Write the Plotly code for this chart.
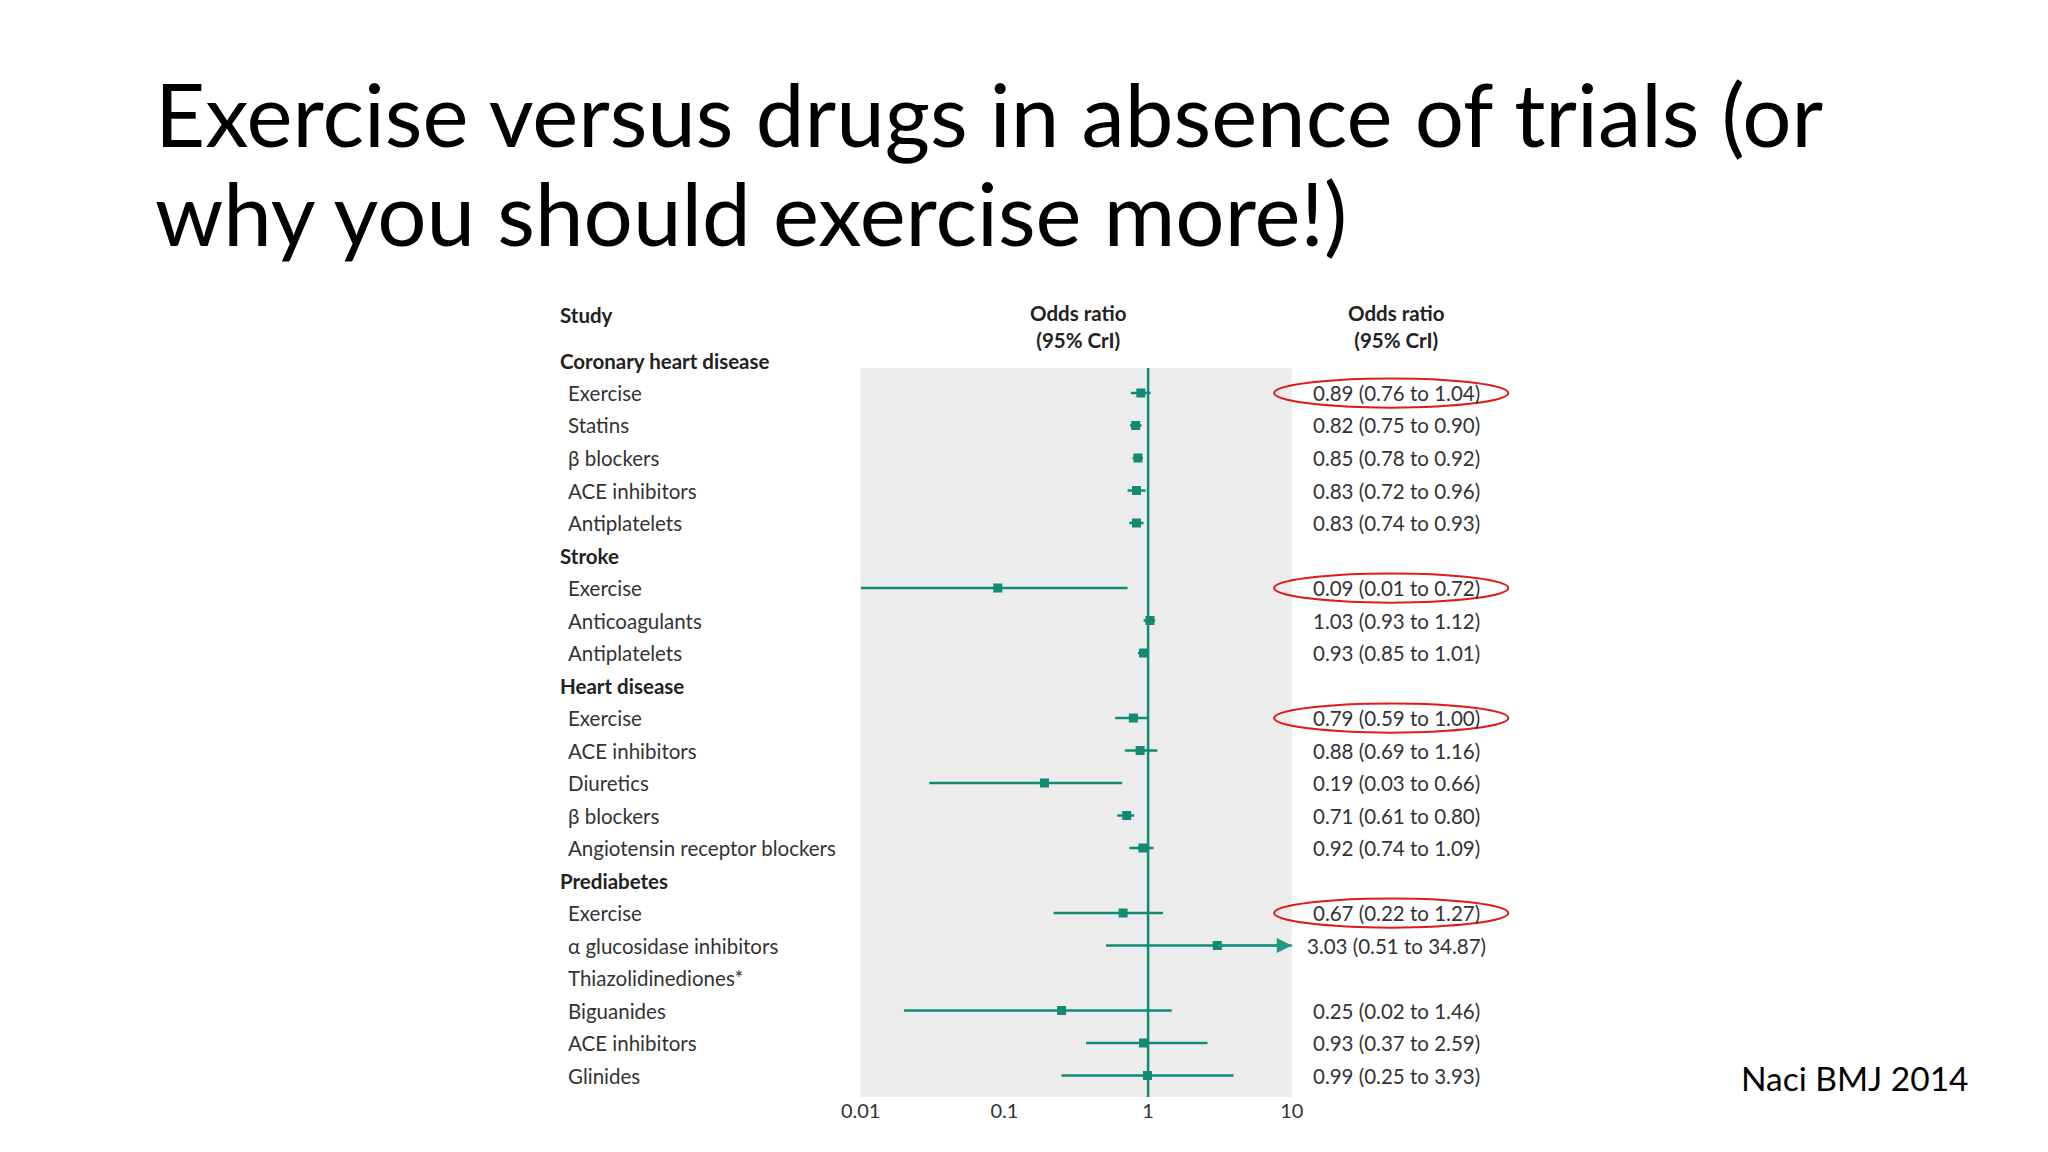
import math
import plotly.graph_objects as go

# ---------------- data ----------------
study_groups = [
    "Coronary heart disease", "Coronary heart disease", "Coronary heart disease",
    "Coronary heart disease", "Coronary heart disease",
    "Stroke", "Stroke", "Stroke",
    "Heart disease", "Heart disease", "Heart disease", "Heart disease", "Heart disease",
    "Prediabetes", "Prediabetes", "Prediabetes", "Prediabetes", "Prediabetes", "Prediabetes",
]
study_names = [
    "Exercise", "Statins", "β blockers", "ACE inhibitors", "Antiplatelets",
    "Exercise", "Anticoagulants", "Antiplatelets",
    "Exercise", "ACE inhibitors", "Diuretics", "β blockers", "Angiotensin receptor blockers",
    "Exercise", "α glucosidase inhibitors", "Thiazolidinediones*", "Biguanides",
    "ACE inhibitors", "Glinides",
]
odds_ratio = [0.89, 0.82, 0.85, 0.83, 0.83,
              0.09, 1.03, 0.93,
              0.79, 0.88, 0.19, 0.71, 0.92,
              0.67, 3.03, None, 0.25, 0.93, 0.99]
ci_lower = [0.76, 0.75, 0.78, 0.72, 0.74,
            0.01, 0.93, 0.85,
            0.59, 0.69, 0.03, 0.61, 0.74,
            0.22, 0.51, None, 0.02, 0.37, 0.25]
ci_upper = [1.04, 0.90, 0.92, 0.96, 0.93,
            0.72, 1.12, 1.01,
            1.00, 1.16, 0.66, 0.80, 1.09,
            1.27, 34.87, None, 1.46, 2.59, 3.93]
axis_tick_values = [0.01, 0.1, 1, 10]
axis_tick_labels = ["0.01", "0.1", "1", "10"]
highlight_study = "Exercise"

# ---------------- styling / geometry ----------------
W, H = 2048, 1152
TEAL = "#138a72"
GRAY_BG = "#ececec"
TXT = "#333333"
FONT = "Lato"
LBL_SIZE = 20.5
X_LEFT_PX, X_RIGHT_PX = 854, 1292
Y_TOP_PX, Y_BOT_PX = 368, 1097
ROW0_PX, ROW_STEP = 360.5, 32.5
XMIN, XMAX = 0.01, 10


def px_to_row(py):
    return (py - ROW0_PX) / ROW_STEP


def row_to_paper(row):
    return 1 - (ROW0_PX + row * ROW_STEP) / H


def px_x(p):
    return p / W


def px_y(p):
    return 1 - p / H


# build rows: group header followed by its studies
rows = []
prev = None
r = 0
for g, n, o, lo, hi in zip(study_groups, study_names, odds_ratio, ci_lower, ci_upper):
    if g != prev:
        rows.append(dict(label=g, header=True, row=r))
        r += 1
        prev = g
    rows.append(dict(label=n, header=False, row=r, o=o, lo=lo, hi=hi))
    r += 1

fig = go.Figure()

# CI lines
lx, ly = [], []
for d in rows:
    if d["header"] or d["o"] is None:
        continue
    lx += [d["lo"], min(d["hi"], XMAX), None]
    ly += [d["row"], d["row"], None]
fig.add_trace(go.Scatter(x=lx, y=ly, mode="lines",
                         line=dict(color=TEAL, width=2.5), hoverinfo="skip", showlegend=False))

# reference line at OR = 1
y_top_row, y_bot_row = px_to_row(Y_TOP_PX), px_to_row(Y_BOT_PX)
fig.add_trace(go.Scatter(x=[1, 1], y=[y_top_row, y_bot_row], mode="lines",
                         line=dict(color=TEAL, width=2.5), hoverinfo="skip", showlegend=False))

# point estimates
mx = [d["o"] for d in rows if not d["header"] and d["o"] is not None]
my = [d["row"] for d in rows if not d["header"] and d["o"] is not None]
fig.add_trace(go.Scatter(x=mx, y=my, mode="markers",
                         marker=dict(symbol="square", size=9, color=TEAL),
                         showlegend=False))

annotations = []
shapes = []

# arrows for CIs extending beyond axis
for d in rows:
    if not d["header"] and d["o"] is not None and d["hi"] > XMAX:
        annotations.append(dict(x=math.log10(XMAX), y=d["row"], ax=math.log10(d["o"]), ay=d["row"],
                                xref="x", yref="y", axref="x", ayref="y", text="",
                                showarrow=True, arrowhead=2, arrowsize=1.2, arrowwidth=2.5,
                                arrowcolor="#1f9a87", standoff=0))

# left labels and right OR text
HDR_X, ITEM_X = 547, 555
for d in rows:
    yp = row_to_paper(d["row"])
    if d["header"]:
        annotations.append(dict(x=px_x(HDR_X), y=yp, xref="paper", yref="paper",
                                text="<b>%s</b>" % d["label"], showarrow=False,
                                xanchor="left", yanchor="middle", align="left",
                                font=dict(family=FONT, size=LBL_SIZE, color="#222222")))
    else:
        annotations.append(dict(x=px_x(ITEM_X), y=yp, xref="paper", yref="paper",
                                text=d["label"], showarrow=False,
                                xanchor="left", yanchor="middle", align="left",
                                font=dict(family=FONT, size=LBL_SIZE, color=TXT)))
        if d["o"] is not None:
            annotations.append(dict(x=px_x(1398), y=yp, xref="paper", yref="paper",
                                    text="%.2f (%.2f to %.2f)" % (d["o"], d["lo"], d["hi"]),
                                    showarrow=False, xanchor="center", yanchor="middle",
                                    font=dict(family=FONT, size=LBL_SIZE, color=TXT)))
            if d["label"] == highlight_study:
                shapes.append(dict(type="circle", xref="paper", yref="y",
                                   x0=px_x(1274), x1=px_x(1512),
                                   y0=d["row"] - 0.45, y1=d["row"] + 0.45,
                                   line=dict(color="#e0191b", width=2)))

# column headers
annotations.append(dict(x=px_x(HDR_X), y=px_y(315), xref="paper", yref="paper",
                        text="<b>Study</b>", showarrow=False, xanchor="left", yanchor="middle",
                        align="left", font=dict(family=FONT, size=LBL_SIZE, color="#222222")))
for cx in (1075, 1398):
    annotations.append(dict(x=px_x(cx), y=px_y(326), xref="paper", yref="paper",
                            text="<b>Odds ratio</b><br><b>(95% CrI)</b>", showarrow=False,
                            xanchor="center", yanchor="middle", align="center",
                            font=dict(family=FONT, size=LBL_SIZE, color="#222222")))

# slide title and citation
annotations.append(dict(x=px_x(135), y=px_y(113), xref="paper", yref="paper",
                        text="Exercise versus drugs in absence of trials (or",
                        showarrow=False, xanchor="left", yanchor="middle", align="left",
                        font=dict(family=FONT, size=87, color="#000000")))
annotations.append(dict(x=px_x(135), y=px_y(212), xref="paper", yref="paper",
                        text="why you should exercise more!)",
                        showarrow=False, xanchor="left", yanchor="middle", align="left",
                        font=dict(family=FONT, size=87, color="#000000")))
annotations.append(dict(x=px_x(1982), y=px_y(1078), xref="paper", yref="paper",
                        text="Naci BMJ 2014", showarrow=False, xanchor="right", yanchor="middle",
                        align="right", font=dict(family=FONT, size=33.5, color="#000000")))

fig.update_layout(
    width=W, height=H,
    margin=dict(l=0, r=0, t=0, b=0),
    paper_bgcolor="white",
    plot_bgcolor=GRAY_BG,
    showlegend=False,
    xaxis=dict(type="log", range=[math.log10(XMIN), math.log10(XMAX)],
               domain=[X_LEFT_PX / W, X_RIGHT_PX / W],
               tickvals=axis_tick_values, ticktext=axis_tick_labels,
               showgrid=False, zeroline=False, showline=False, ticks="",
               tickfont=dict(family=FONT, size=20, color=TXT)),
    yaxis=dict(range=[y_bot_row, y_top_row],
               domain=[1 - Y_BOT_PX / H, 1 - Y_TOP_PX / H],
               showgrid=False, zeroline=False, showline=False, showticklabels=False, ticks=""),
    annotations=annotations,
    shapes=shapes,
)

fig.write_html("out.html")
